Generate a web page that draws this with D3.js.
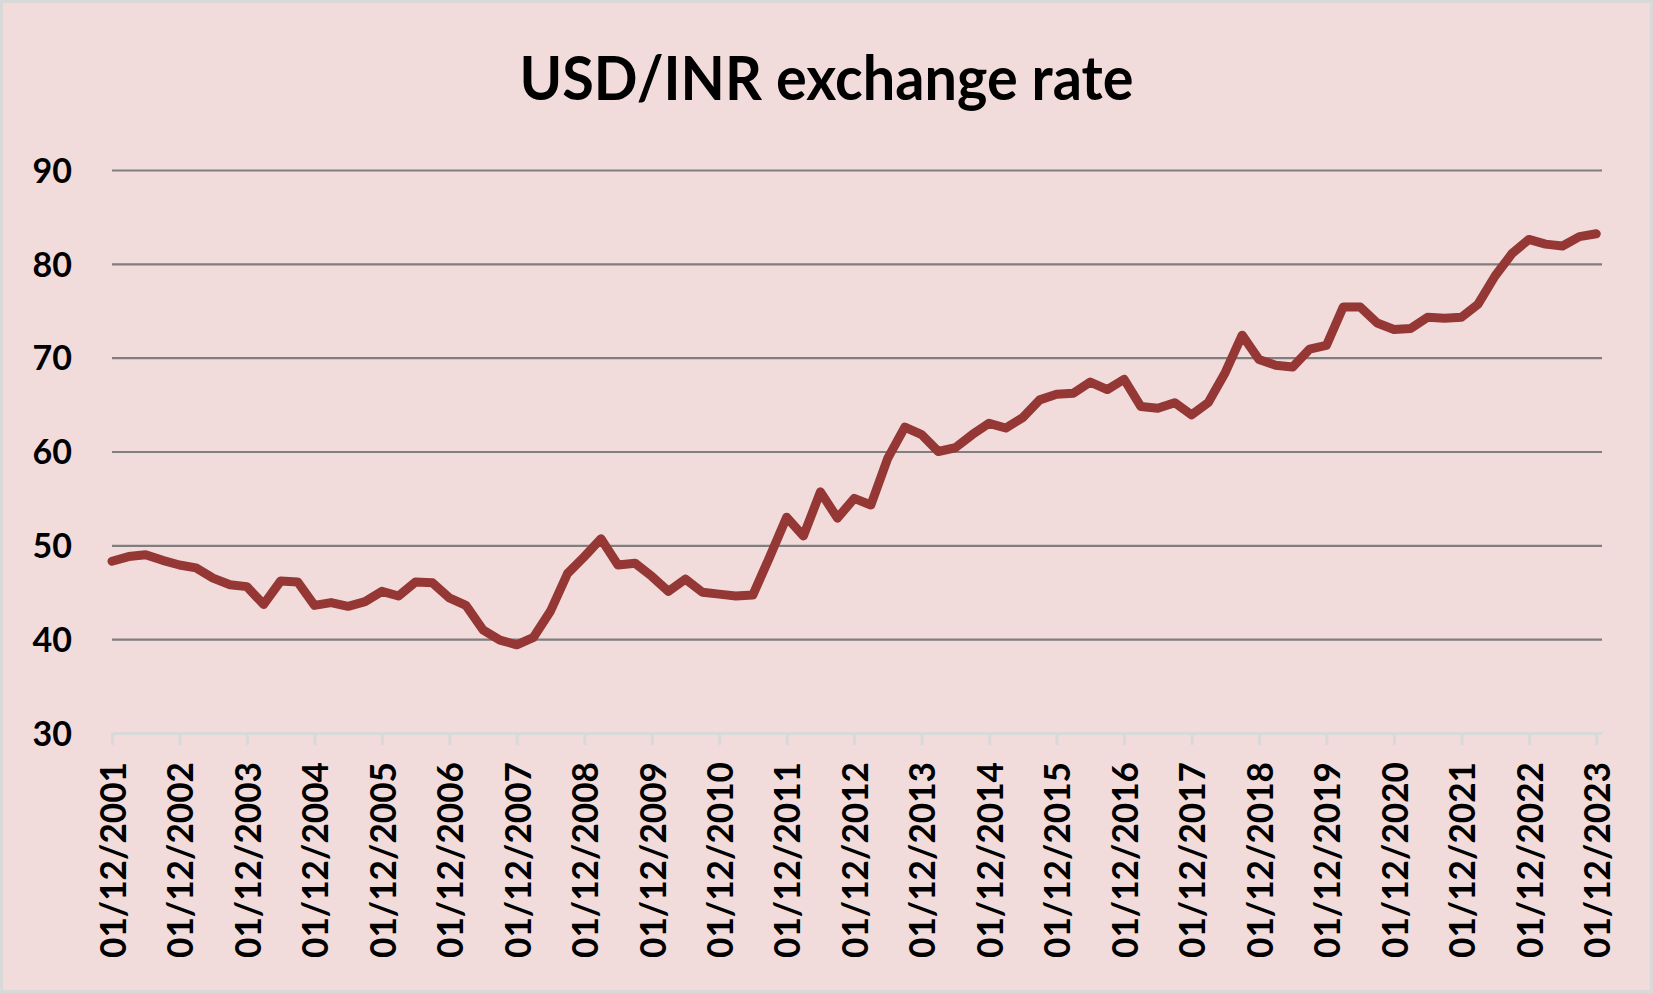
<!DOCTYPE html>
<html>
<head>
<meta charset="utf-8">
<script src="https://cdn.jsdelivr.net/npm/d3@7"></script>
<style>
  html, body { margin: 0; padding: 0; background: #fff; }
  svg { display: block; }
  text { font-family: Lato, "Noto Sans", sans-serif; font-weight: bold; fill: #000; }
</style>
</head>
<body>
<div id="chart"></div>
<script>
// quarterly USD/INR, first point 01/12/2001, last 01/12/2023
const firstDate = new Date(2001, 11, 1);
const lastDate = new Date(2023, 11, 1);
const rates = [
  48.3, 48.8, 49.0, 48.4, 47.9, 47.6, 46.5, 45.8, 45.6, 43.7,
  46.2, 46.1, 43.6, 43.9, 43.5, 44.0, 45.1, 44.6, 46.1, 46.0,
  44.4, 43.6, 41.0, 39.9, 39.4, 40.2, 43.0, 47.0, 48.8, 50.7,
  47.9, 48.1, 46.7, 45.1, 46.4, 45.0, 44.8, 44.6, 44.7, 48.8,
  53.0, 51.0, 55.7, 52.9, 55.0, 54.3, 59.3, 62.6, 61.8, 60.0,
  60.4, 61.8, 63.0, 62.5, 63.6, 65.5, 66.1, 66.2, 67.4, 66.6,
  67.7, 64.8, 64.6, 65.2, 63.9, 65.2, 68.4, 72.4, 69.8, 69.2,
  69.0, 70.9, 71.3, 75.4, 75.4, 73.7, 73.0, 73.1, 74.3, 74.2,
  74.3, 75.7, 78.7, 81.1, 82.6, 82.1, 81.9, 82.9, 83.2
];
const yTicks = [30, 40, 50, 60, 70, 80, 90];
const title = 'USD/INR exchange rate';

const W = 1653, H = 993;
const margin = { top: 170, right: 51, bottom: 260, left: 112 };

const quarters = d3.timeMonth.range(firstDate, d3.timeMonth.offset(lastDate, 1), 3);
const data = quarters.map((d, i) => ({ date: d, value: rates[i] }));
const yearTicks = d3.timeMonth.range(firstDate, d3.timeMonth.offset(lastDate, 1), 12);

const svg = d3.select('#chart').append('svg')
  .attr('width', W)
  .attr('height', H);

svg.append('rect')
  .attr('x', 1.5).attr('y', 1.5)
  .attr('width', W - 3).attr('height', H - 3)
  .attr('fill', '#f2dcdb')
  .attr('stroke', '#d9d9d9')
  .attr('stroke-width', 3);

// axis runs one month past the last date, like the excel date axis
const x = d3.scaleTime()
  .domain([firstDate, d3.timeMonth.offset(lastDate, 1)])
  .range([margin.left, W - margin.right]);
const y = d3.scaleLinear()
  .domain([30, 90])
  .range([H - margin.bottom, margin.top]);

svg.append('text')
  .attr('x', W / 2)
  .attr('y', 100)
  .attr('text-anchor', 'middle')
  .attr('font-size', 62)
  .attr('textLength', 614)
  .attr('lengthAdjust', 'spacingAndGlyphs')
  .text(title);

// gridlines
const yAxis = svg.append('g')
  .attr('class', 'y-axis')
  .attr('transform', 'translate(' + margin.left + ',0)')
  .call(d3.axisLeft(y).tickValues(yTicks)
    .tickSizeInner(-(W - margin.left - margin.right)).tickSizeOuter(0).tickPadding(40));
yAxis.select('.domain').remove();
yAxis.selectAll('.tick line')
  .attr('stroke', '#7f7f7f')
  .attr('stroke-width', 2.2)
  .filter(d => d === 30).remove();
yAxis.selectAll('.tick text')
  .attr('font-size', 34)
  .attr('dy', '0.36em')
  .style('font-family', 'Lato, sans-serif');

// bottom axis
const xAxis = svg.append('g')
  .attr('class', 'x-axis')
  .attr('transform', 'translate(0,' + y(30) + ')')
  .call(d3.axisBottom(x).tickValues(yearTicks)
    .tickFormat(d3.timeFormat('%d/%m/%Y'))
    .tickSizeInner(12).tickSizeOuter(0));
xAxis.select('.domain')
  .attr('stroke', '#d9d9d9')
  .attr('stroke-width', 3);
xAxis.selectAll('.tick line')
  .attr('stroke', '#d9d9d9')
  .attr('stroke-width', 3);
xAxis.selectAll('.tick text')
  .attr('font-size', 37)
  .attr('text-anchor', 'end')
  .attr('transform', 'translate(0,29) rotate(-90)')
  .attr('x', 0)
  .attr('y', 0)
  .attr('dy', '0.36em')
  .attr('textLength', 196)
  .attr('lengthAdjust', 'spacingAndGlyphs')
  .style('font-family', 'Lato, sans-serif');

const line = d3.line()
  .x(d => x(d.date))
  .y(d => y(d.value));

svg.append('path')
  .datum(data)
  .attr('fill', 'none')
  .attr('stroke', '#953735')
  .attr('stroke-width', 9)
  .attr('stroke-linejoin', 'round')
  .attr('stroke-linecap', 'round')
  .attr('d', line);
</script>
</body>
</html>
